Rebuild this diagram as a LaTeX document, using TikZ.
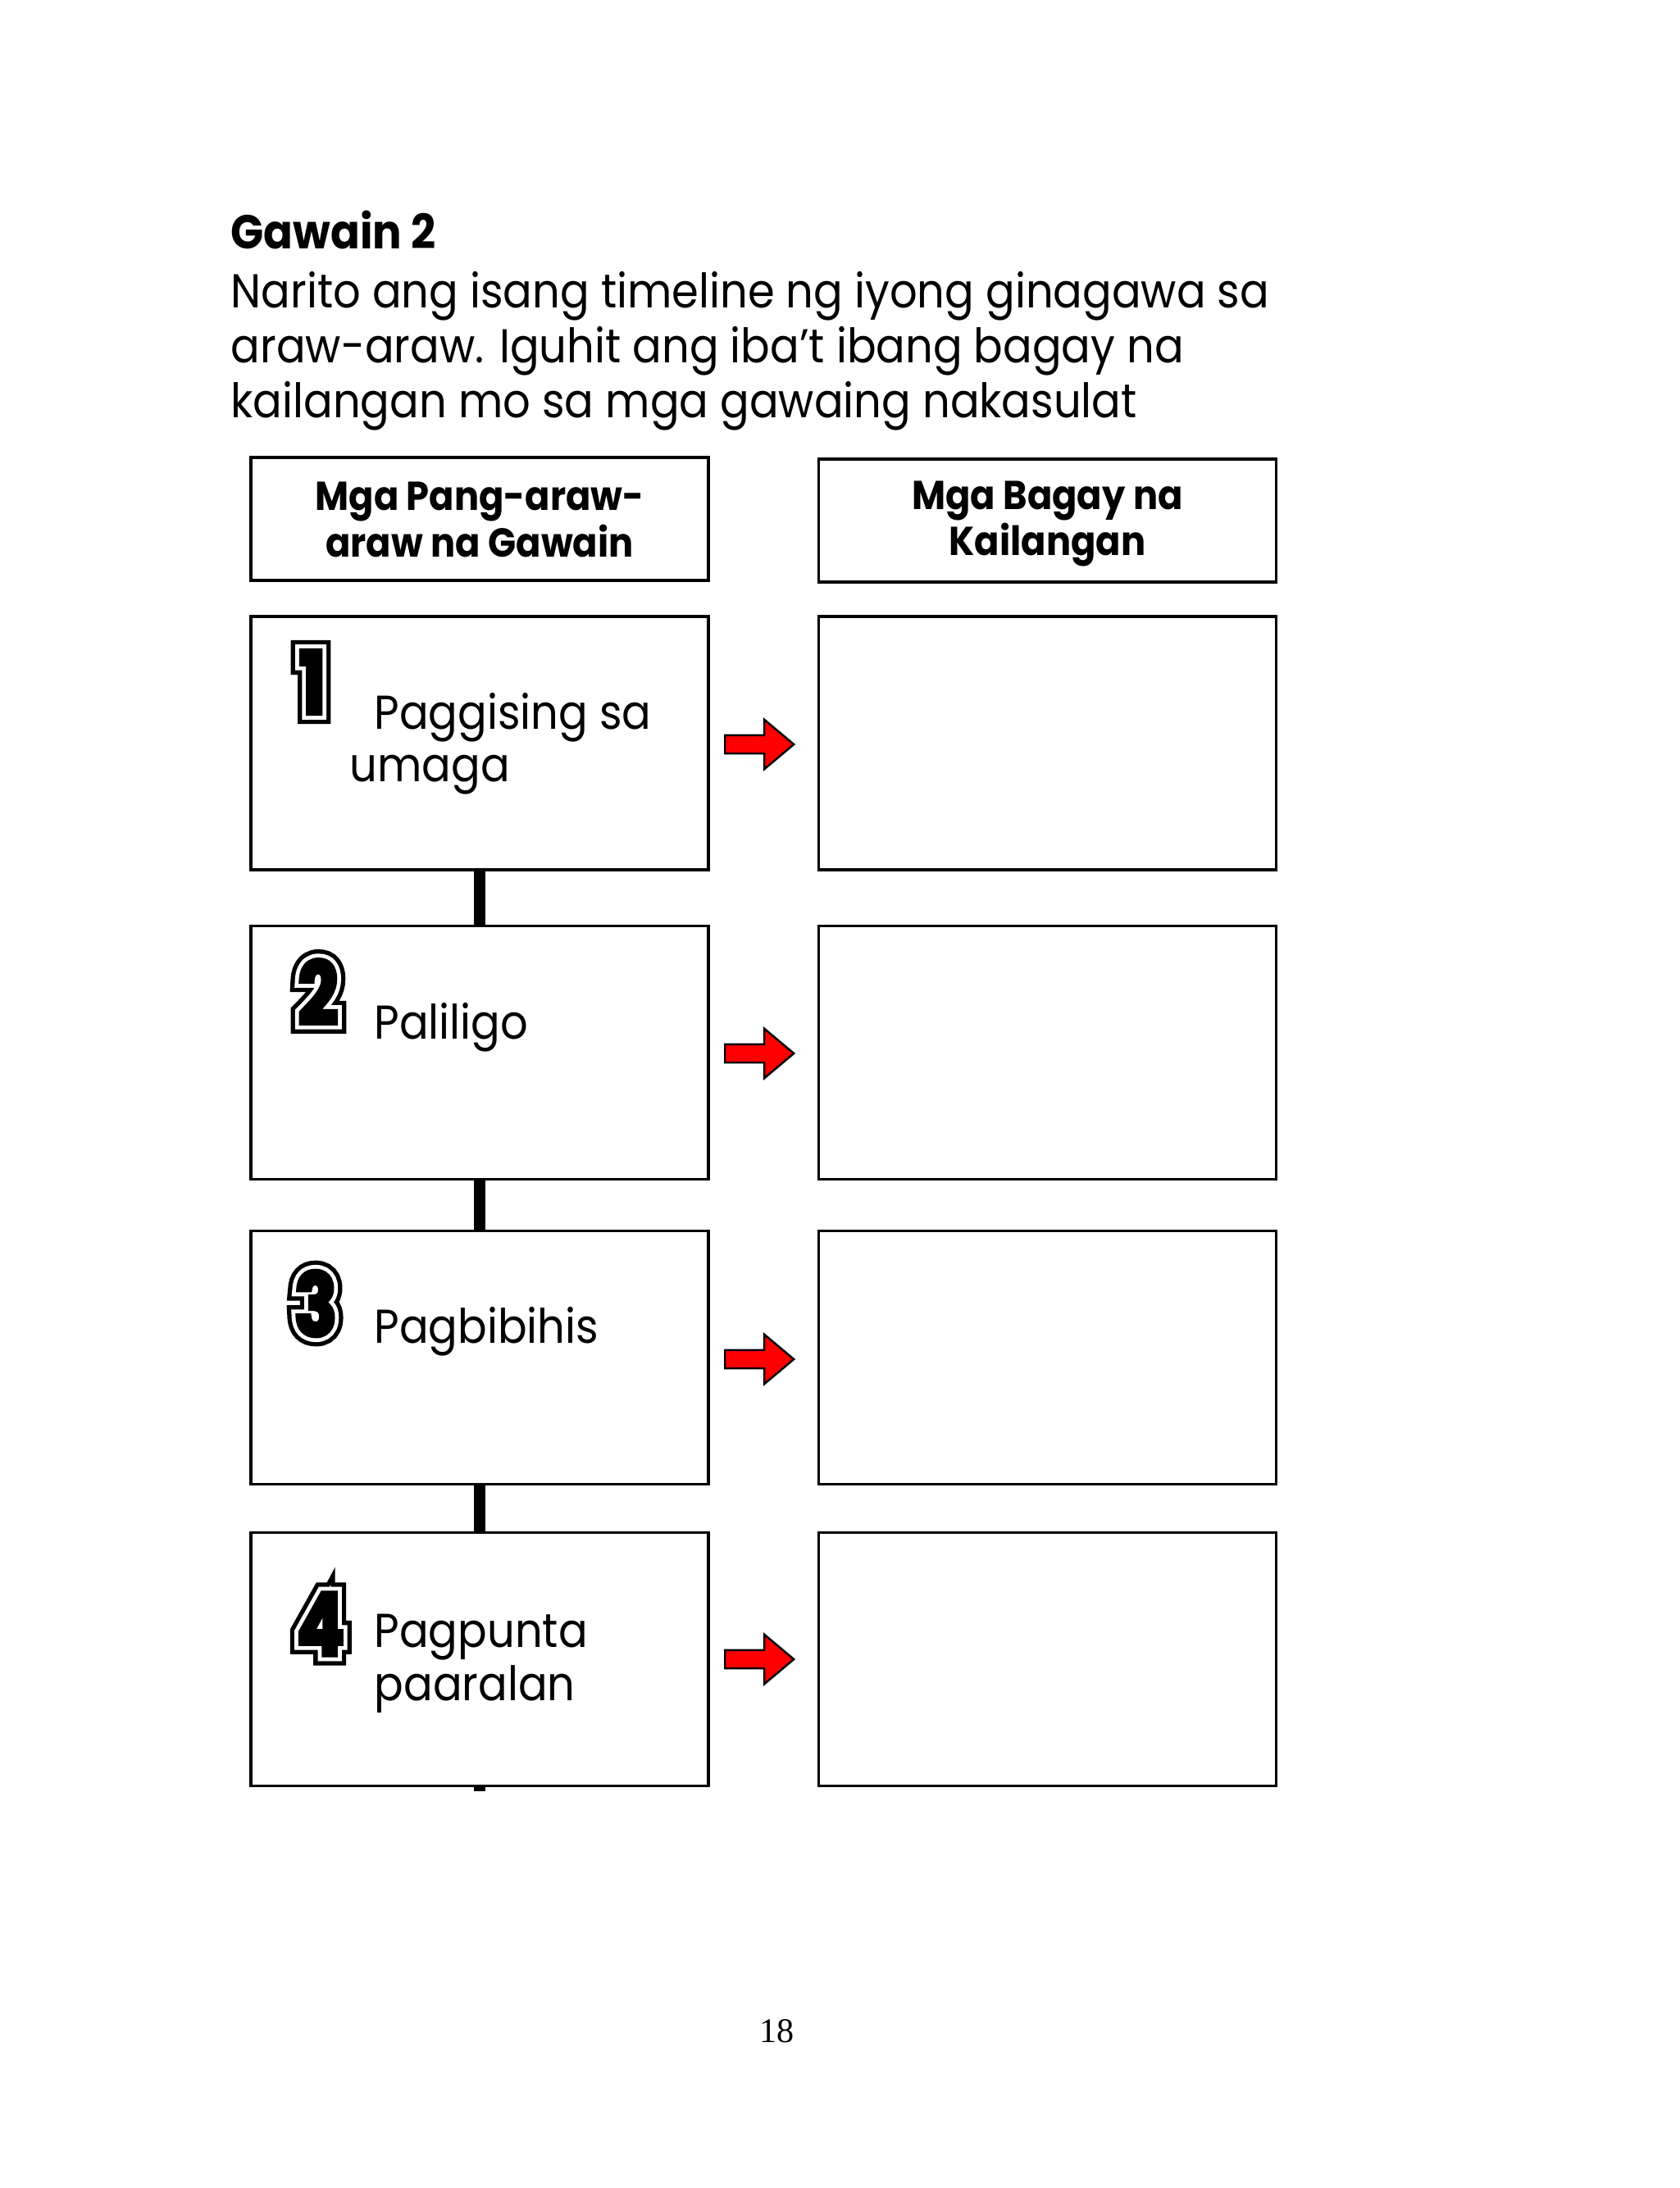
\documentclass[tikz,border=0pt]{standalone}
\usepackage{fontspec}
\setmainfont{Poppins}[FakeStretch=0.91]
\newfontfamily\pagenumfont{Liberation Serif}
\newfontfamily\rimfont{Poppins}[FakeStretch=0.8, BoldFeatures={FakeBold=24}]
\newfontfamily\ringfont{Poppins}[FakeStretch=0.8, BoldFeatures={FakeBold=14}]
\newfontfamily\digitfont{Poppins}[FakeStretch=0.8, BoldFeatures={FakeBold=5}]
\newcommand{\hdstrut}{\rule[-1.7pt]{0pt}{13.7pt}}
\usetikzlibrary{shapes.arrows}

\begin{document}
\begin{tikzpicture}
	[
	x = 1cm, y = 1cm,
	bodytext/.style = {anchor=base west, inner sep=0pt, font=\fontsize{16.5pt}{20pt}\selectfont},
	headtext/.style = {bodytext, font=\fontsize{16.5pt}{20pt}\selectfont\bfseries},
	colhead/.style = {draw, line width=1.1pt, minimum width=5.58cm, minimum height=1.5cm, inner sep=0pt, align=center, font=\fontsize{14pt}{16pt}\selectfont\bfseries},
	taskbox/.style = {draw, line width=1pt, minimum width=5.58cm, minimum height=3.09cm, inner sep=0pt},
	timeline/.style = {line width=4pt},
	redarrow/.style = {single arrow, draw=black, fill=red, line width=0.7pt, anchor=tail, minimum height=0.84cm, inner sep=0.1cm, single arrow tip angle=80, single arrow head extend=0.19cm},
	numrim/.style = {inner sep=0pt, font=\rimfont\fontsize{30pt}{30pt}\selectfont\bfseries},
	numring/.style = {inner sep=0pt, text=white, font=\ringfont\fontsize{30pt}{30pt}\selectfont\bfseries},
	numcore/.style = {inner sep=0pt, font=\digitfont\fontsize{30pt}{30pt}\selectfont\bfseries}
	]

	\useasboundingbox (0,0) rectangle (20.48,-26.69);

	\node[headtext] (title) at (2.81,-3.03) {Gawain 2};
	\node[bodytext] (intro1) at (2.81,-3.75) {Narito ang isang timeline ng iyong ginagawa sa};
	\node[bodytext] (intro2) at (2.81,-4.42) {araw-araw. Iguhit ang iba’t ibang bagay na};
	\node[bodytext] (intro3) at (2.81,-5.09) {kailangan mo sa mga gawaing nakasulat};

	\node[colhead] (gawain) at (5.85,-6.33) {Mga Pang-araw-\hdstrut\\araw na Gawain\hdstrut};
	\node[colhead] (bagay) at (12.775,-6.35) {Mga Bagay na\hdstrut\\Kailangan\hdstrut};

	\node[taskbox] (task1) at (5.85,-9.065) {};
	\node[taskbox] (task2) at (5.85,-12.84) {};
	\node[taskbox] (task3) at (5.85,-16.56) {};
	\node[taskbox] (task4) at (5.85,-20.24) {};

	\node[taskbox] (item1) at (12.775,-9.065) {};
	\node[taskbox] (item2) at (12.775,-12.84) {};
	\node[taskbox] (item3) at (12.775,-16.56) {};
	\node[taskbox] (item4) at (12.775,-20.24) {};

	\coordinate (tlend) at ([yshift=-0.05cm]task4.south);
	\draw[timeline] (task1.south) -- (task2.north);
	\draw[timeline] (task2.south) -- (task3.north);
	\draw[timeline] (task3.south) -- (task4.north);
	\draw[timeline] (task4.south) -- (tlend);

	\node[redarrow] (arr1) at (8.83,-9.08) {};
	\node[redarrow] (arr2) at (8.83,-12.85) {};
	\node[redarrow] (arr3) at (8.83,-16.58) {};
	\node[redarrow] (arr4) at (8.83,-20.24) {};

	% step numbers: black rim, white ring, black digit
	\node[numrim] (rim1) at (3.81,-8.32) {1};
	\node[numring] (ring1) at (rim1) {1};
	\node[numcore] (num1) at (rim1) {1};
	\node[numrim] (rim2) at (3.88,-12.10) {2};
	\node[numring] (ring2) at (rim2) {2};
	\node[numcore] (num2) at (rim2) {2};
	\node[numrim] (rim3) at (3.85,-15.90) {3};
	\node[numring] (ring3) at (rim3) {3};
	\node[numcore] (num3) at (rim3) {3};
	\node[numrim] (rim4) at (3.91,-19.81) {4};
	\node[numring] (ring4) at (rim4) {4};
	\node[numcore] (num4) at (rim4) {4};

	\node[bodytext] (act1a) at (4.56,-8.89) {Paggising sa};
	\node[bodytext] (act1b) at (4.26,-9.53) {umaga};
	\node[bodytext] (act2) at (4.56,-12.67) {Paliligo};
	\node[bodytext] (act3) at (4.56,-16.38) {Pagbibihis};
	\node[bodytext] (act4a) at (4.56,-20.09) {Pagpunta};
	\node[bodytext] (act4b) at (4.56,-20.74) {paaralan};

	\node[anchor=base, inner sep=0pt, font=\pagenumfont\fontsize{12pt}{14pt}\selectfont] (pagenum) at (9.475,-24.91) {18};

\end{tikzpicture}
\end{document}
